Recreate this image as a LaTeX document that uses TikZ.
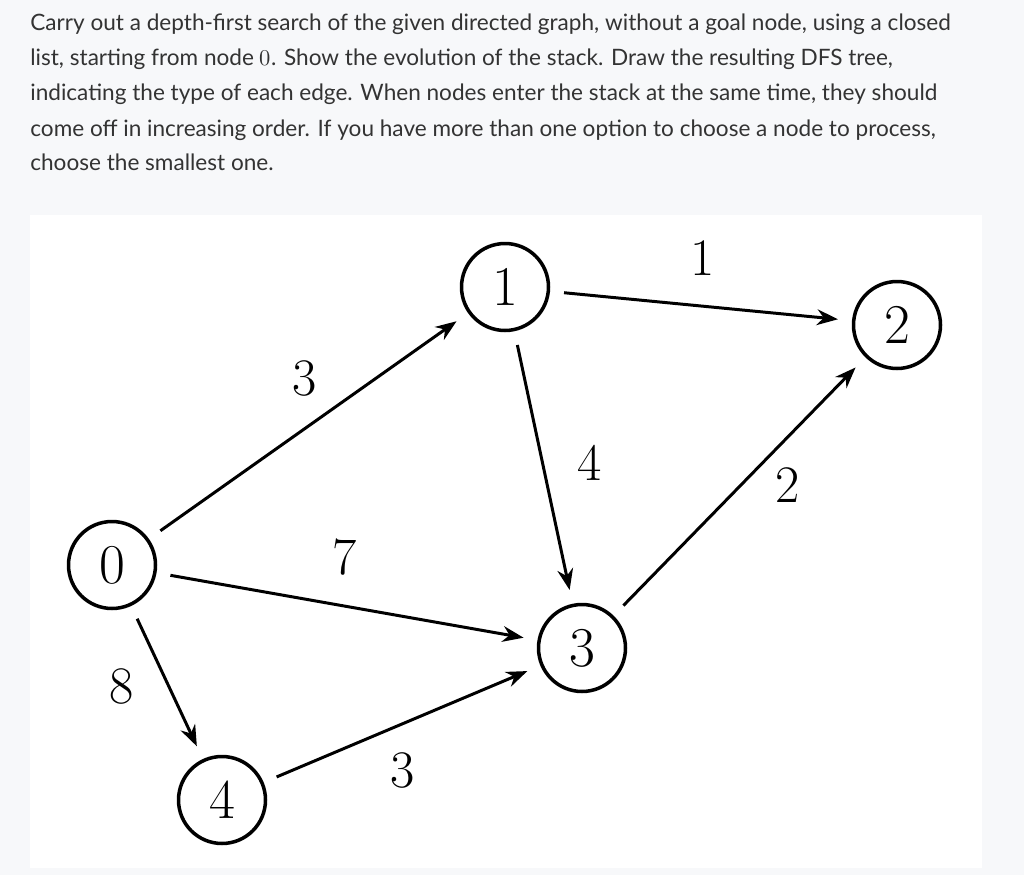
\documentclass[tikz,border=0pt]{standalone}
\usepackage{fontspec}
\setmainfont{Lato}
\usetikzlibrary{arrows.meta}
\definecolor{bgc}{HTML}{F7F8FA}
\definecolor{txt}{HTML}{333333}
\begin{document}
\begin{tikzpicture}[x=0.02cm,y=-0.02cm,
  vert/.style={circle,draw,line width=2pt,minimum size=1.74cm,inner sep=0pt,font=\fontspec{Latin Modern Roman}\fontsize{32}{32}\selectfont},
  wt/.style={font=\fontspec{Latin Modern Roman}\fontsize{30}{30}\selectfont},
  edge/.style={line width=1.7pt,-{Stealth[length=12pt,width=9pt]},shorten <=8pt,shorten >=8pt},
  qline/.style={anchor=base west,font=\fontsize{12.85}{15}\selectfont,text=txt,inner sep=0pt}]
\fill[bgc] (0,0) rectangle (1024,875);
\fill[white] (30,215) rectangle (982,868);
\node[qline] (l1) at (30,31) {Carry out a depth-first search of the given directed graph, without a goal node, using a closed};
\node[qline] (l2) at (30,66) {list, starting from node {\fontspec{Latin Modern Math}0}. Show the evolution of the stack. Draw the resulting DFS tree,};
\node[qline] (l3) at (30,101) {indicating the type of each edge. When nodes enter the stack at the same time, they should};
\node[qline] (l4) at (30,136) {come off in increasing order. If you have more than one option to choose a node to process,};
\node[qline] (l5) at (30,170) {choose the smallest one.};
\node[vert] (n0) at (112,565) {0};
\node[vert] (n1) at (505,287) {1};
\node[vert] (n2) at (897,325) {2};
\node[vert] (n3) at (582,648) {3};
\node[vert] (n4) at (222,800) {4};
\draw[edge] (n0) -- (n1);
\draw[edge] (n1) -- (n2);
\draw[edge] (n1) -- (n3);
\draw[edge] (n3) -- (n2);
\draw[edge] (n0) -- (n3);
\draw[edge] (n0) -- (n4);
\draw[edge] (n4) -- (n3);
\node[wt] (w01) at (305,378) {3};
\node[wt] (w12) at (703,258) {1};
\node[wt] (w13) at (590,463) {4};
\node[wt] (w32) at (788,485) {2};
\node[wt] (w03) at (345,557) {7};
\node[wt] (w04) at (122,686) {8};
\node[wt] (w43) at (403,770) {3};
\end{tikzpicture}
\end{document}
